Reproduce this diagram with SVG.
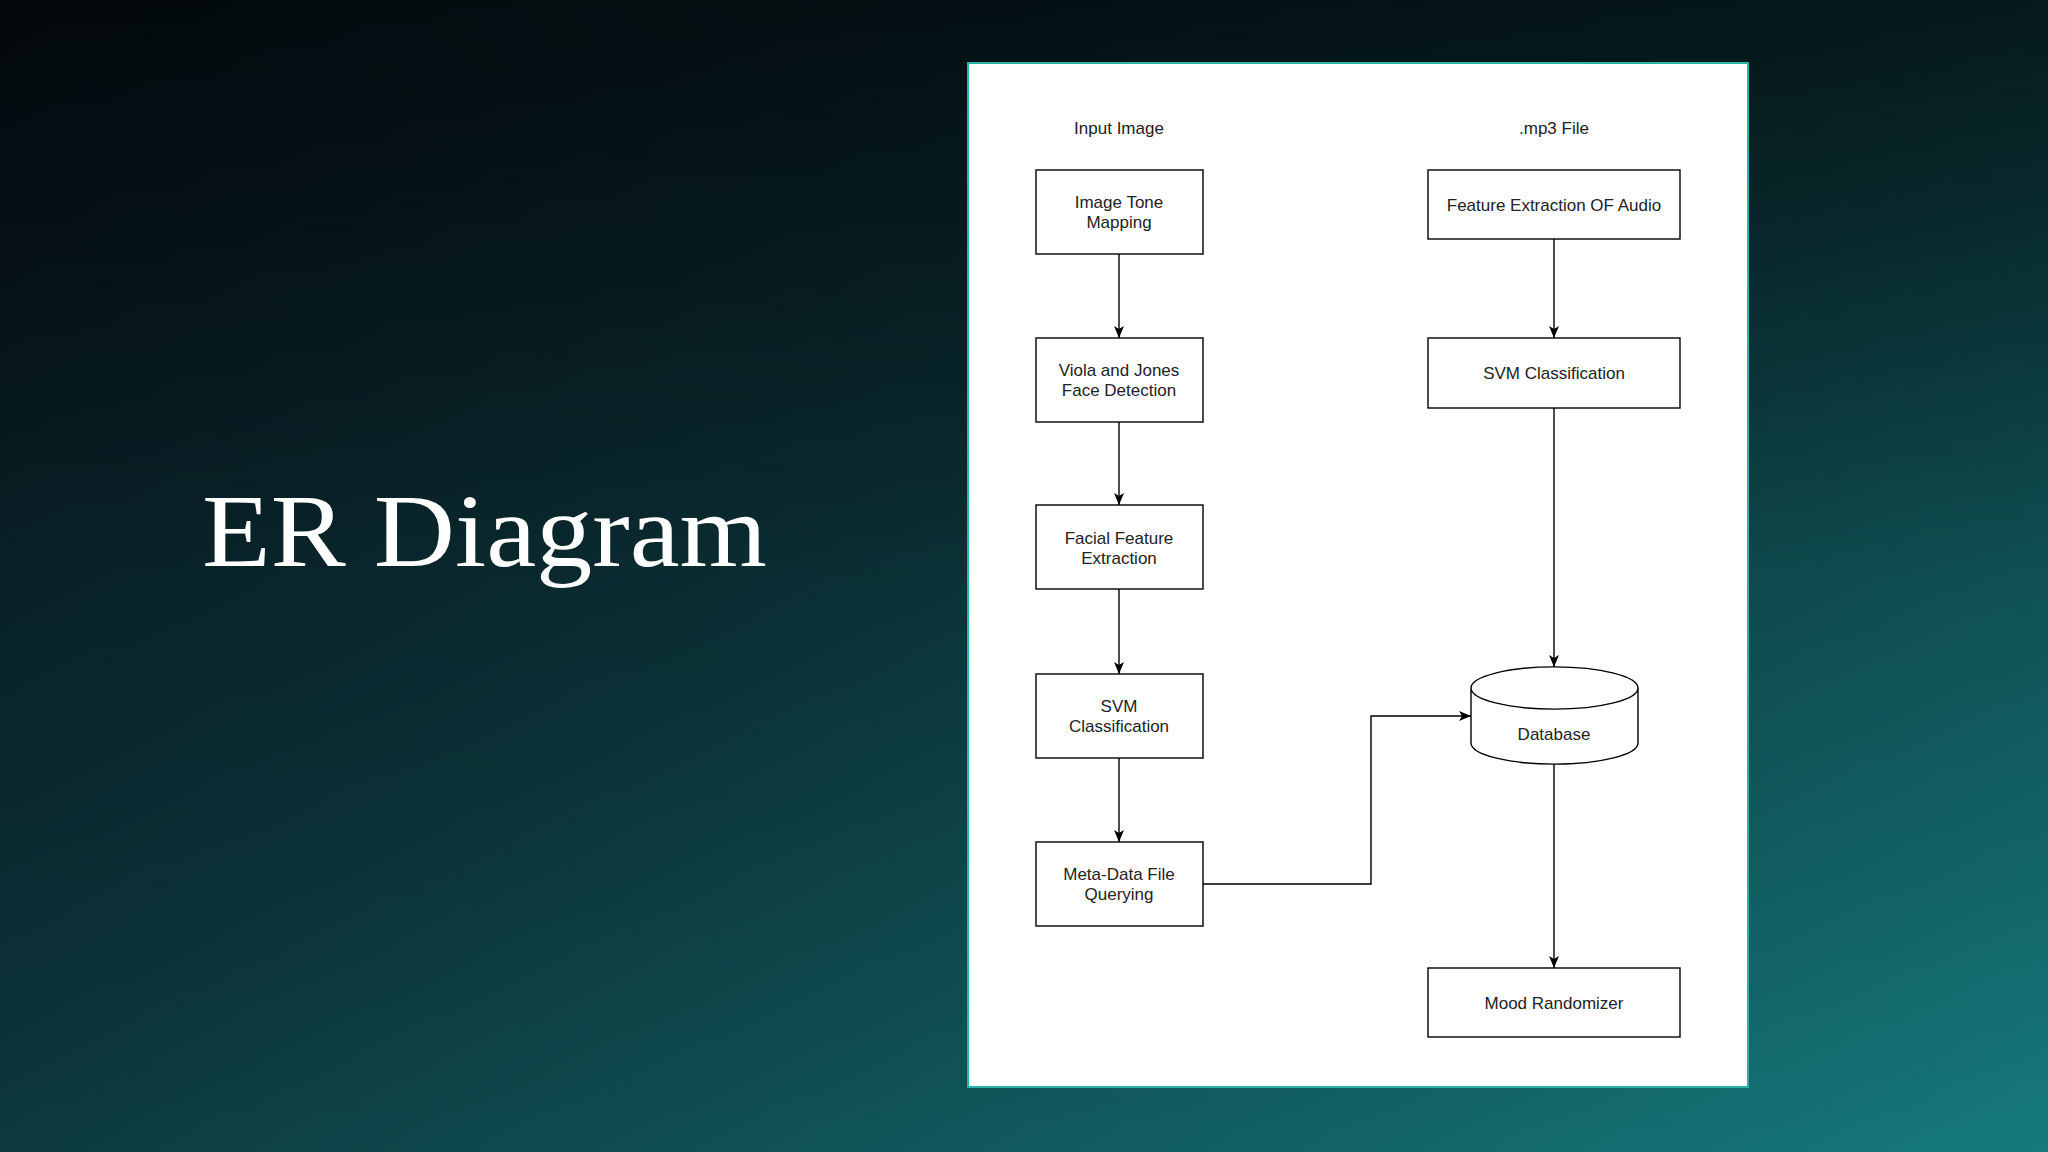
<svg xmlns="http://www.w3.org/2000/svg" width="2048" height="1152" viewBox="0 0 2048 1152">
<defs>
<linearGradient id="bg" x1="0" y1="0" x2="1" y2="1">
<stop offset="0" stop-color="#06121a"/>
<stop offset="0.45" stop-color="#0b3338"/>
<stop offset="1" stop-color="#157a7c"/>
</linearGradient>
<linearGradient id="dark" x1="0" y1="0" x2="0" y2="1">
<stop offset="0" stop-color="#000" stop-opacity="0.55"/>
<stop offset="0.5" stop-color="#000" stop-opacity="0.1"/>
<stop offset="1" stop-color="#000" stop-opacity="0"/>
</linearGradient>
<marker id="ah" markerWidth="14" markerHeight="14" refX="12" refY="6" orient="auto" markerUnits="userSpaceOnUse">
<path d="M0,1 L12,6 L0,11 L3,6 z" fill="#000"/>
</marker>
<style>
.box{fill:#fff;stroke:#000;stroke-width:1.4}
.t{font-family:"Liberation Sans",Arial,sans-serif;font-size:17px;fill:#222;text-anchor:middle}
.c{stroke:#000;stroke-width:1.4;fill:none;marker-end:url(#ah)}
</style>
</defs>
<rect width="2048" height="1152" fill="url(#bg)"/>
<rect width="2048" height="1152" fill="url(#dark)"/>
<text x="202" y="566" font-family="Liberation Serif,serif" font-size="104" fill="#fff" textLength="565" lengthAdjust="spacingAndGlyphs">ER Diagram</text>
<rect x="968" y="63" width="780" height="1024" fill="#fff" stroke="#2bb3a8" stroke-width="2"/>
<text class="t" x="1119" y="134">Input Image</text>
<text class="t" x="1554" y="134">.mp3 File</text>
<g id="n1"><rect class="box" x="1036" y="170" width="167" height="84"/><text class="t" x="1119" y="208">Image Tone</text><text class="t" x="1119" y="228">Mapping</text></g>
<g id="n2"><rect class="box" x="1036" y="338" width="167" height="84"/><text class="t" x="1119" y="376">Viola and Jones</text><text class="t" x="1119" y="396">Face Detection</text></g>
<g id="n3"><rect class="box" x="1036" y="505" width="167" height="84"/><text class="t" x="1119" y="544">Facial Feature</text><text class="t" x="1119" y="564">Extraction</text></g>
<g id="n4"><rect class="box" x="1036" y="674" width="167" height="84"/><text class="t" x="1119" y="712">SVM</text><text class="t" x="1119" y="732">Classification</text></g>
<g id="n5"><rect class="box" x="1036" y="842" width="167" height="84"/><text class="t" x="1119" y="880">Meta-Data File</text><text class="t" x="1119" y="900">Querying</text></g>
<g id="r1"><rect class="box" x="1428" y="170" width="252" height="69"/><text class="t" x="1554" y="211">Feature Extraction OF Audio</text></g>
<g id="r2"><rect class="box" x="1428" y="338" width="252" height="70"/><text class="t" x="1554" y="379">SVM Classification</text></g>
<g id="db"><path class="box" d="M1471,688 L1471,743 A83,21 0 0 0 1638,743 L1638,688 A83,21 0 0 0 1471,688 A83,21 0 0 0 1638,688"/><text class="t" x="1554" y="740">Database</text></g>
<g id="r3"><rect class="box" x="1428" y="968" width="252" height="69"/><text class="t" x="1554" y="1009">Mood Randomizer</text></g>
<g id="connectors">
<line class="c" x1="1119" y1="254" x2="1119" y2="338"/>
<line class="c" x1="1119" y1="422" x2="1119" y2="505"/>
<line class="c" x1="1119" y1="589" x2="1119" y2="674"/>
<line class="c" x1="1119" y1="758" x2="1119" y2="842"/>
<line class="c" x1="1554" y1="239" x2="1554" y2="338"/>
<line class="c" x1="1554" y1="408" x2="1554" y2="667"/>
<line class="c" x1="1554" y1="764" x2="1554" y2="968"/>
<polyline class="c" points="1203,884 1371,884 1371,716 1471,716"/>
</g>
</svg>
